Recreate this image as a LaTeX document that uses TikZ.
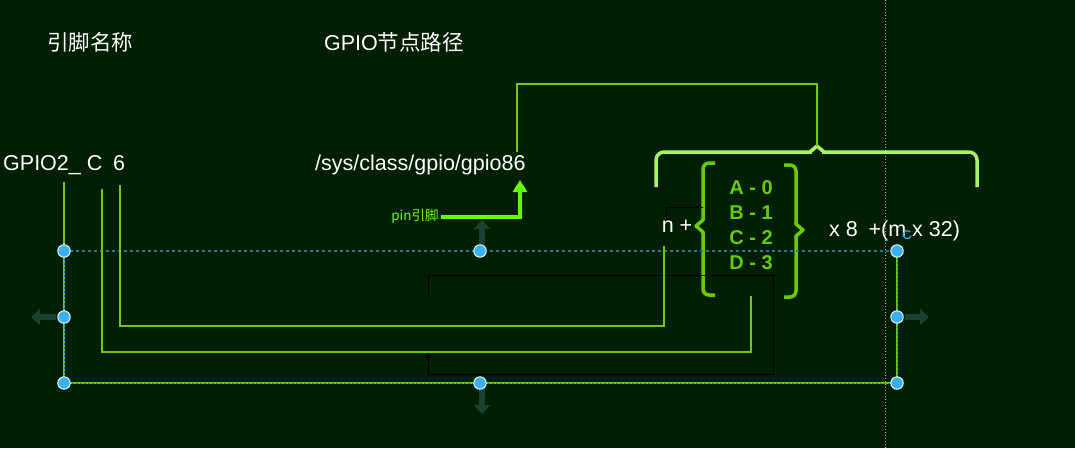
\documentclass[tikz,border=0pt]{standalone}
\usepackage{fontspec}
\setmainfont{Liberation Sans}
\newfontfamily\cjk{Noto Sans CJK SC}
\usetikzlibrary{arrows.meta}
\definecolor{bg}{RGB}{0,30,0}
\definecolor{gmid}{RGB}{110,200,20}
\definecolor{glight}{RGB}{170,245,100}
\definecolor{gbr}{RGB}{102,204,0}
\definecolor{gpin}{RGB}{102,255,0}
\definecolor{dotblue}{RGB}{59,176,240}
\definecolor{lineblue}{RGB}{30,120,150}
\definecolor{handle}{RGB}{25,65,50}
\begin{document}
\begin{tikzpicture}[x=1pt,y=-1pt,
  wt/.style={text=white,font=\fontsize{21.5}{25}\selectfont,inner sep=0},
  lt/.style={text=gbr,font=\bfseries\fontsize{20}{23}\selectfont,inner sep=0},
  gl/.style={draw=gmid,line width=1.5pt},
  hd/.style={circle,fill=dotblue,draw=white,line width=0.9pt,minimum size=12.5pt,inner sep=0},
  hand/.style={draw=handle,line width=6pt,-{Triangle[length=9pt,width=16pt]}}]
\fill[bg] (0,0) rectangle (1075,448);
\useasboundingbox (0,0) rectangle (1075,448);
\draw[gray!70,dotted,line width=1pt] (885,0) -- (885,448);
\node[wt] (t1) at (90,42) {\cjk 引脚名称};
\node[wt] (t2) at (394,42) {GPIO\cjk 节点路径};
\node[wt,anchor=west] (gp) at (3,165) {GPIO2\_ C\enspace6};
\node[wt,anchor=west] (sy) at (315,165) {/sys/class/gpio/gpio86};
\node[wt] (np) at (677,226) {n +};
\node[wt,anchor=west] (x8) at (829,231) {x 8\enspace+(m x 32)};
\node[lt] (a0) at (751,188) {A - 0};
\node[lt] (b1) at (751,213) {B - 1};
\node[lt] (c2) at (751,238) {C - 2};
\node[lt] (d3) at (751,263) {D - 3};
\node[text=gpin,font=\cjk\fontsize{13.5}{15}\selectfont,inner sep=0] (pin) at (415,216) {pin引脚};
% braces
\draw[glight,line width=3.5pt,line join=round,rounded corners=8pt] (656,187) -- (656,152) -- (812,152);
\draw[glight,line width=3.5pt,line join=round,rounded corners=8pt] (977,187) -- (977,152) -- (822,152);
\draw[glight,line width=3.5pt,line join=round] (810,152) -- (817,146) -- (824,152);
\draw[gmid,line width=1.5pt] (817,146) -- (817,84) -- (517,84) -- (517,152);
\draw[gbr,line width=3.5pt,rounded corners=6pt] (715,163) -- (703,163) -- (703,220);
\draw[gbr,line width=3.5pt,line join=round] (703,218) -- (703,220) -- (696,226) -- (703,232) -- (703,234);
\draw[gbr,line width=3.5pt,rounded corners=6pt] (703,232) -- (703,295) -- (715,295);
\draw[gbr,line width=3.5pt,rounded corners=6pt] (784,165) -- (796,165) -- (796,224);
\draw[gbr,line width=3.5pt,line join=round] (796,222) -- (796,224) -- (803,230) -- (796,236) -- (796,238);
\draw[gbr,line width=3.5pt,rounded corners=6pt] (796,236) -- (796,297) -- (784,297);
% black lines
\draw[black,line width=1pt] (666,218) -- (666,207) -- (703,207);
\draw[black,line width=1pt] (428,296) -- (428,275) -- (773,275) -- (773,374) -- (428,374) -- (428,353);
\draw[black,-{Triangle[length=6pt,width=5pt]}] (428,362) -- (428,352);
% pin arrow
\draw[gpin,line width=4pt,-{Triangle[length=12pt,width=14pt]}] (pin.east) ++(2,1) -| (520,180);
% blue dotted
\draw[lineblue,dashed,dash pattern=on 3pt off 3pt,line width=1.3pt] (64,251) -- (897,251);
% green wires
\draw[gl] (64,182) -- (64,383) -- (897,383) -- (897,251);
\draw[lineblue,dashed,dash pattern=on 2pt off 2pt,line width=0.6pt] (64,251) -- (64,383) -- (897,383) -- (897,251);
\draw[gl] (102,189) -- (102,352) -- (751,352) -- (751,296);
\draw[gl] (120,185) -- (120,326) -- (664,326) -- (664,246);
% handle arrows
\draw[hand] (482,248) -- (482,220);
\draw[hand] (482,387) -- (482,414);
\draw[hand] (56,317) -- (31,317);
\draw[hand] (905,317) -- (929,317);
% dots
\foreach \n/\p in {h1/{(64,251)},h2/{(480,251)},h3/{(897,251)},h4/{(64,317)},h5/{(897,317)},h6/{(64,383)},h7/{(480,383)},h8/{(897,383)}}
  \node[hd] (\n) at \p {};
\draw[dotblue,line width=1.2pt] (911,236) arc[start angle=20,end angle=320,radius=4];
\end{tikzpicture}
\end{document}
